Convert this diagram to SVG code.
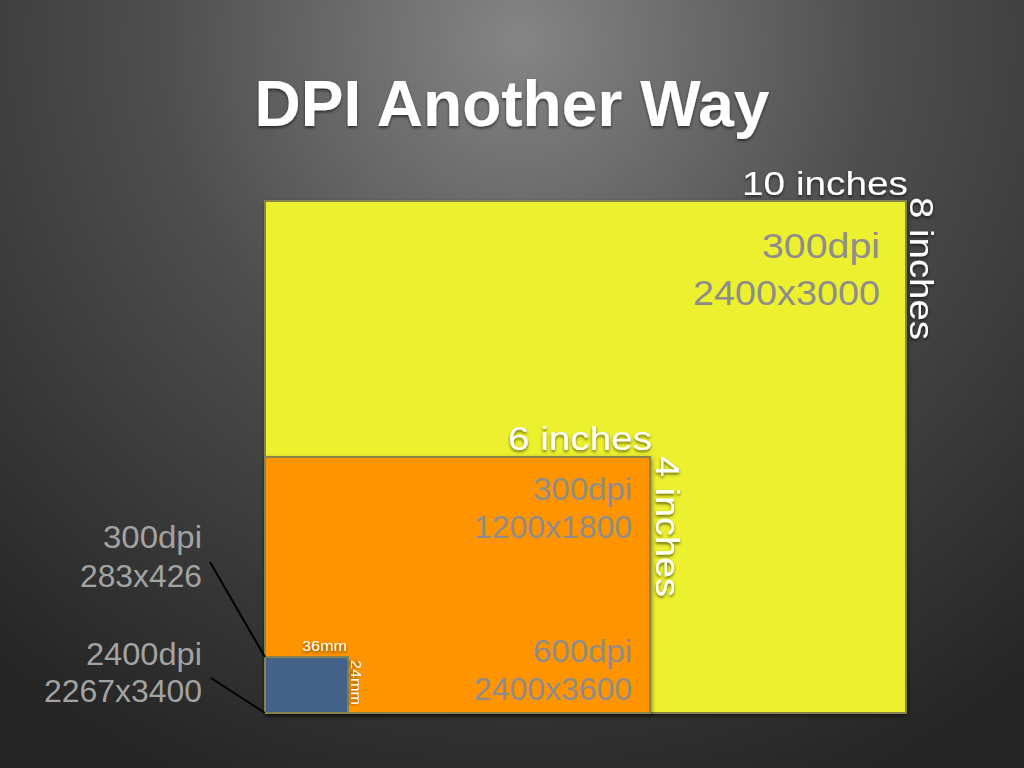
<svg xmlns="http://www.w3.org/2000/svg" width="1024" height="768" viewBox="0 0 1024 768">
<defs>
<radialGradient id="bg" cx="520" cy="40" r="800" gradientUnits="userSpaceOnUse">
<stop offset="0" stop-color="#858585"/>
<stop offset="0.45" stop-color="#4e4e4e"/>
<stop offset="1" stop-color="#262626"/>
</radialGradient>
<filter id="sh" x="-10%" y="-20%" width="120%" height="140%">
<feDropShadow dx="0" dy="2" stdDeviation="1.5" flood-color="#000" flood-opacity="0.55"/>
</filter>
<filter id="bsh" x="-5%" y="-5%" width="110%" height="110%">
<feDropShadow dx="1" dy="2" stdDeviation="2" flood-color="#000" flood-opacity="0.45"/>
</filter>
</defs>
<style>
text{font-family:"Liberation Sans",Arial,sans-serif}
.title{font-size:64px;font-weight:bold;fill:#fff}
.w{font-size:34px;fill:#fff}
.g{font-size:35px;fill:#8d8d8d}
.gs{font-size:31px;fill:#8d8d8d}
.lg{font-size:31px;fill:#a3a3a3}
.sm{font-size:15px;fill:#fff}
.box{stroke:#86834e;stroke-width:2}
.ln{stroke:#000;stroke-width:2;fill:none}
</style>
<rect width="1024" height="768" fill="url(#bg)"/>
<text class="title" x="512" y="126" text-anchor="middle" textLength="515" lengthAdjust="spacingAndGlyphs" filter="url(#sh)">DPI Another Way</text>
<g id="yellow">
<rect class="box" x="265" y="201" width="641" height="512" fill="#ecf02f" filter="url(#bsh)"/>
<text class="g" x="880" y="258" text-anchor="end" textLength="118" lengthAdjust="spacingAndGlyphs">300dpi</text>
<text class="g" x="880" y="305" text-anchor="end" textLength="187" lengthAdjust="spacingAndGlyphs">2400x3000</text>
</g>
<g id="yellow-dims" filter="url(#sh)">
<text class="w" x="908" y="195" text-anchor="end" textLength="166" lengthAdjust="spacingAndGlyphs">10 inches</text>
<text class="w" transform="translate(910,197) rotate(90)" x="0" y="0" textLength="143" lengthAdjust="spacingAndGlyphs">8 inches</text>
</g>
<g id="orange">
<rect class="box" x="265" y="457" width="385" height="256" fill="#fe9400" filter="url(#bsh)"/>
<text class="gs" x="632" y="500" text-anchor="end" textLength="99" lengthAdjust="spacingAndGlyphs">300dpi</text>
<text class="gs" x="632" y="538" text-anchor="end" textLength="158" lengthAdjust="spacingAndGlyphs">1200x1800</text>
<text class="gs" x="632" y="662" text-anchor="end" textLength="99" lengthAdjust="spacingAndGlyphs">600dpi</text>
<text class="gs" x="632" y="700" text-anchor="end" textLength="158" lengthAdjust="spacingAndGlyphs">2400x3600</text>
</g>
<g id="orange-dims" filter="url(#sh)">
<text class="w" x="652" y="450" text-anchor="end" textLength="144" lengthAdjust="spacingAndGlyphs">6 inches</text>
<text class="w" transform="translate(656,456) rotate(90)" x="0" y="0" textLength="141" lengthAdjust="spacingAndGlyphs">4 inches</text>
</g>
<g id="blue">
<rect class="box" x="265" y="657" width="83" height="56" fill="#44618a"/>
<text class="sm" x="302" y="651" textLength="45" lengthAdjust="spacingAndGlyphs" filter="url(#sh)">36mm</text>
<text class="sm" transform="translate(351,660) rotate(90)" x="0" y="0" textLength="45" lengthAdjust="spacingAndGlyphs" filter="url(#sh)">24mm</text>
</g>
<g id="left-labels">
<text class="lg" x="202" y="548" text-anchor="end" textLength="99" lengthAdjust="spacingAndGlyphs">300dpi</text>
<text class="lg" x="202" y="587" text-anchor="end" textLength="122" lengthAdjust="spacingAndGlyphs">283x426</text>
<text class="lg" x="202" y="665" text-anchor="end" textLength="116" lengthAdjust="spacingAndGlyphs">2400dpi</text>
<text class="lg" x="202" y="702" text-anchor="end" textLength="158" lengthAdjust="spacingAndGlyphs">2267x3400</text>
</g>
<g id="connectors">
<line class="ln" x1="210" y1="562" x2="265" y2="657"/>
<line class="ln" x1="211" y1="678" x2="265" y2="713"/>
</g>
</svg>
